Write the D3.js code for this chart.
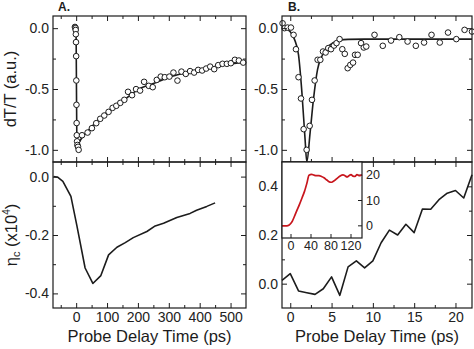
<!DOCTYPE html>
<html>
<head>
<meta charset="utf-8">
<script src="https://cdn.jsdelivr.net/npm/d3@7"></script>
<style>
  html, body { margin: 0; padding: 0; background: #fff; }
  svg { display: block; font-family: "Liberation Sans", Arial, sans-serif; }
  .tick text { fill: #222; }
</style>
</head>
<body>
<svg id="chart" width="474" height="349"></svg>
<script>
"use strict";

// A. top: dT/T, open circles + fit
const timesA = [-4, -3, -2, -1.5, -1, -0.5, 0, 0.5, 1, 1.5, 2, 3, 4, 6, 8,
    19, 37, 51, 65, 78, 91, 105, 118, 130, 143, 156, 168, 181, 194, 207, 220, 235, 248,
    261, 274, 287, 302, 315, 328, 341, 355, 369, 382, 395, 408, 421, 434, 447, 460,
    474, 488, 501, 514, 527, 541];
const valuesA = [0.01, 0.005, 0, -0.015, -0.05, -0.115, -0.23, -0.43, -0.63, -0.78, -0.88, -0.93, -0.96, -0.975, -1.0,
    -0.88, -0.858, -0.822, -0.781, -0.745, -0.718, -0.688, -0.655, -0.638, -0.614, -0.589, -0.523, -0.551, -0.501, -0.513, -0.441, -0.474, -0.485,
    -0.425, -0.398, -0.403, -0.398, -0.365, -0.431, -0.357, -0.376, -0.353, -0.365, -0.343, -0.348, -0.332, -0.316, -0.337, -0.304,
    -0.293, -0.293, -0.288, -0.26, -0.266, -0.283];
const fitTimesA = [-3, -1, 0, 1, 2, 3, 5, 10, 20, 40, 60, 80, 100, 130, 160, 200, 250, 300, 350, 400, 450, 500, 550];
const fitValuesA = [0, -0.01, -0.1, -0.5, -0.85, -0.95, -0.97, -0.94, -0.895, -0.84, -0.785, -0.735, -0.69, -0.63, -0.58, -0.505, -0.455, -0.405, -0.37, -0.34, -0.315, -0.295, -0.275];

// A. bottom: eta_c
const timesC = [-73, -60, -43, -17, 2, 29, 54, 80, 105, 132, 159, 185, 229, 256, 283, 326, 369, 390, 423, 450];
const valuesC = [0, -0.002, -0.016, -0.068, -0.166, -0.313, -0.366, -0.339, -0.268, -0.242, -0.226, -0.209, -0.188, -0.169, -0.16, -0.14, -0.126, -0.115, -0.102, -0.09];

// B. top: dT/T, open circles + fit
const timesB = [-0.93, -0.69, -0.33, 0.08, 0.4, 0.69, 1.0, 1.3, 1.62, 1.98, 2.35, 2.63, 2.95, 3.31, 3.64, 3.96, 4.28, 4.6, 4.93, 5.3, 5.6, 5.97,
    6.3, 6.6, 6.95, 7.27, 7.6, 7.84, 8.16, 8.57, 8.9, 9.2, 10.2, 11.2, 12.2, 13.2, 14.2, 15.2, 16.2, 17.1, 18.1, 19.1, 20.1, 21.1, 22.0];
const valuesB = [0.04, 0.0, 0.005, 0.005, -0.055, -0.173, -0.403, -0.578, -0.83, -1.0, -0.803, -0.589, -0.43, -0.26, -0.26, -0.192, -0.2, -0.164, -0.173, -0.143, -0.123, -0.09,
    -0.173, -0.211, -0.329, -0.302, -0.283, -0.219, -0.219, -0.123, -0.159, -0.151, -0.055, -0.145, -0.102, -0.074, -0.11, -0.145, -0.118, -0.055, -0.118, -0.036, -0.09, -0.014, -0.028];
const fitTimesB = [-1, -0.5, 0, 0.5, 1, 1.4, 1.8, 2, 2.4, 2.8, 3.3, 3.8, 4.4, 5.2, 6, 7, 9, 12, 22];
const fitValuesB = [0.03, 0.0, -0.03, -0.09, -0.22, -0.52, -0.92, -1.1, -0.86, -0.59, -0.34, -0.235, -0.165, -0.12, -0.1, -0.092, -0.09, -0.09, -0.09];

// B. bottom: eta_c
const timesD = [-1, 0, 1, 2, 3, 4, 5, 6, 7, 8, 9, 10, 11, 12, 13, 14, 15, 16, 17, 18, 19, 20, 21, 22];
const valuesD = [0.014, 0.041, -0.03, -0.037, -0.044, -0.021, 0.028, -0.048, 0.069, 0.094, 0.065, 0.094, 0.168, 0.22, 0.2, 0.244, 0.21, 0.307, 0.306, 0.345, 0.372, 0.383, 0.352, 0.448];

// B. inset (red)
const timesE = [-17, -10, -5, 0, 4, 8, 13, 18, 23, 28, 33, 37, 42, 47, 52, 57, 62, 67, 72, 77, 81, 85, 90, 95, 100, 105, 109, 113, 117, 121, 125, 129, 133, 137, 141, 143];
const valuesE = [-0.2, -0.2, -0.1, 0.6, 1.8, 3.6, 6, 8.3, 10.8, 13.4, 16.8, 19.8, 20.1, 19.8, 19.6, 19.6, 19.3, 18.8, 18, 17.2, 17, 17.3, 18, 18.8, 19.6, 19.9, 19.6, 19.1, 19.6, 20, 19.4, 19.3, 20, 19.6, 19.8, 20];

const xTicksA = [0, 100, 200, 300, 400, 500];
const xMinorA = [-50, 50, 150, 250, 350, 450];
const xTicksB = [0, 5, 10, 15, 20];
const xMinorB = [2.5, 7.5, 12.5, 17.5];
const yTicksTop = [0, -0.5, -1.0];
const yMinorTop = [-0.25, -0.75];
const yTicksEtaA = [0, -0.2, -0.4];
const yMinorEtaA = [-0.1, -0.3];
const yTicksEtaB = [0, 0.2, 0.4];
const yMinorEtaB = [0.1, 0.3];
const xTicksInset = [0, 40, 80, 120];
const yTicksInset = [0, 10, 20];

const svg = d3.select("#chart");
const ink = "#1c1c1c";
const fmt1 = d => d.toFixed(1);
const fmtInt = d => String(d);

const xA = d3.scaleLinear().domain([-75, 550]).range([53, 246]);
const xB = d3.scaleLinear().domain([-1, 22]).range([282, 472]);
const yTop = d3.scaleLinear().domain([-1.1, 0.1]).range([162, 16]);
const yEtaA = d3.scaleLinear().domain([-0.45, 0.05]).range([308, 162]);
const yEtaB = d3.scaleLinear().domain([-0.1, 0.5]).range([308, 162]);
const xIn = d3.scaleLinear().domain([-17, 143]).range([282, 362]);
const yIn = d3.scaleLinear().domain([-5, 25]).range([238, 162]);

function zip(ts, vs) { return ts.map((t, i) => [t, vs[i]]); }

function clean(g) {
    g.select(".domain").remove();
    g.selectAll(".tick line").attr("stroke", ink).attr("stroke-width", 1);
    g.selectAll(".tick text").attr("font-size", 14);
}

// frame with inward ticks on all four sides
function frame(x, y, o) {
    const [x0, x1] = x.range();
    const [y0, y1] = y.range();
    const g = svg.append("g");
    const sides = [
        [d3.axisBottom, x, `translate(0,${y0})`, o.xt, o.xm, o.xFmt],
        [d3.axisTop, x, `translate(0,${y1})`, o.xt, o.xm, null],
        [d3.axisLeft, y, `translate(${x0},0)`, o.yt, o.ym, fmt1],
        [d3.axisRight, y, `translate(${x1},0)`, o.yt, o.ym, null],
    ];
    for (const [make, scale, tr, major, minor, labelFmt] of sides) {
        g.append("g").attr("transform", tr)
            .call(make(scale).tickValues(minor).tickSize(-3).tickFormat(""))
            .call(clean);
        g.append("g").attr("transform", tr)
            .call(make(scale).tickValues(major).tickSize(-5).tickPadding(4)
                .tickFormat(labelFmt || ""))
            .call(clean);
    }
    g.append("rect")
        .attr("x", x0).attr("y", y1)
        .attr("width", x1 - x0).attr("height", y0 - y1)
        .attr("fill", "none").attr("stroke", ink).attr("stroke-width", 1.2);
    return g;
}

function drawLine(x, y, data, curve) {
    svg.append("path")
        .datum(data)
        .attr("fill", "none")
        .attr("stroke", ink)
        .attr("stroke-width", 1.6)
        .attr("stroke-linejoin", "round")
        .attr("d", d3.line().x(d => x(d[0])).y(d => y(d[1])).curve(curve || d3.curveLinear));
}

function drawCircles(x, y, data) {
    svg.append("g")
        .selectAll("circle")
        .data(data)
        .join("circle")
        .attr("cx", d => x(d[0]))
        .attr("cy", d => y(d[1]))
        .attr("r", 2.8)
        .attr("fill", "#fff")
        .attr("stroke", ink)
        .attr("stroke-width", 1);
}

// ---- data layers
drawLine(xA, yTop, zip(fitTimesA, fitValuesA), d3.curveMonotoneX);
drawCircles(xA, yTop, zip(timesA, valuesA));

drawLine(xB, yTop, zip(fitTimesB, fitValuesB), d3.curveMonotoneX);
drawCircles(xB, yTop, zip(timesB, valuesB));

drawLine(xA, yEtaA, zip(timesC, valuesC));
drawLine(xB, yEtaB, zip(timesD, valuesD));

// ---- frames
frame(xA, yTop, { xt: xTicksA, xm: xMinorA, yt: yTicksTop, ym: yMinorTop });
frame(xB, yTop, { xt: xTicksB, xm: xMinorB, yt: yTicksTop, ym: yMinorTop });
frame(xA, yEtaA, { xt: xTicksA, xm: xMinorA, yt: yTicksEtaA, ym: yMinorEtaA, xFmt: fmtInt });
frame(xB, yEtaB, { xt: xTicksB, xm: xMinorB, yt: yTicksEtaB, ym: yMinorEtaB, xFmt: fmtInt });

// ---- inset
const inset = svg.append("g");
inset.append("rect")
    .attr("x", xIn.range()[0]).attr("y", yIn.range()[1])
    .attr("width", xIn.range()[1] - xIn.range()[0])
    .attr("height", yIn.range()[0] - yIn.range()[1])
    .attr("fill", "#fff");
inset.append("g").attr("transform", `translate(0,${yIn.range()[0]})`)
    .call(d3.axisBottom(xIn).tickValues(xTicksInset).tickSize(-4).tickPadding(3))
    .call(clean)
    .call(g => g.selectAll(".tick text").attr("font-size", 12.5));
inset.append("g").attr("transform", `translate(${xIn.range()[1]},0)`)
    .call(d3.axisRight(yIn).tickValues(yTicksInset).tickSize(-4).tickPadding(4))
    .call(clean)
    .call(g => g.selectAll(".tick text").attr("font-size", 12.5));
inset.append("path")
    .datum(zip(timesE, valuesE))
    .attr("fill", "none")
    .attr("stroke", "#c8161d")
    .attr("stroke-width", 1.7)
    .attr("d", d3.line().x(d => xIn(d[0])).y(d => yIn(d[1])).curve(d3.curveMonotoneX));
inset.append("rect")
    .attr("x", xIn.range()[0]).attr("y", yIn.range()[1])
    .attr("width", xIn.range()[1] - xIn.range()[0])
    .attr("height", yIn.range()[0] - yIn.range()[1])
    .attr("fill", "none").attr("stroke", ink).attr("stroke-width", 1.2);

// ---- titles
svg.append("text").attr("x", 58).attr("y", 11)
    .attr("font-size", 12).attr("font-weight", "bold").attr("fill", ink).text("A.");
svg.append("text").attr("x", 288).attr("y", 11)
    .attr("font-size", 12).attr("font-weight", "bold").attr("fill", ink).text("B.");

for (const cx of [149.5, 377]) {
    svg.append("text").attr("x", cx).attr("y", 342)
        .attr("text-anchor", "middle").attr("font-size", 16.5).attr("fill", ink)
        .text("Probe Delay Time (ps)");
}

svg.append("text")
    .attr("transform", "translate(16,89) rotate(-90)")
    .attr("text-anchor", "middle").attr("font-size", 16.5).attr("fill", ink)
    .text("dT/T (a.u.)");

const eta = svg.append("text")
    .attr("transform", "translate(17,235) rotate(-90)")
    .attr("text-anchor", "middle").attr("font-size", 16.5).attr("fill", ink);
eta.append("tspan").text("η");
eta.append("tspan").attr("font-size", 11).attr("dy", 3).text("c");
eta.append("tspan").attr("dy", -3).text(" (x10");
eta.append("tspan").attr("font-size", 10).attr("dy", -7).text("4");
eta.append("tspan").attr("dy", 7).text(")");
</script>
</body>
</html>
